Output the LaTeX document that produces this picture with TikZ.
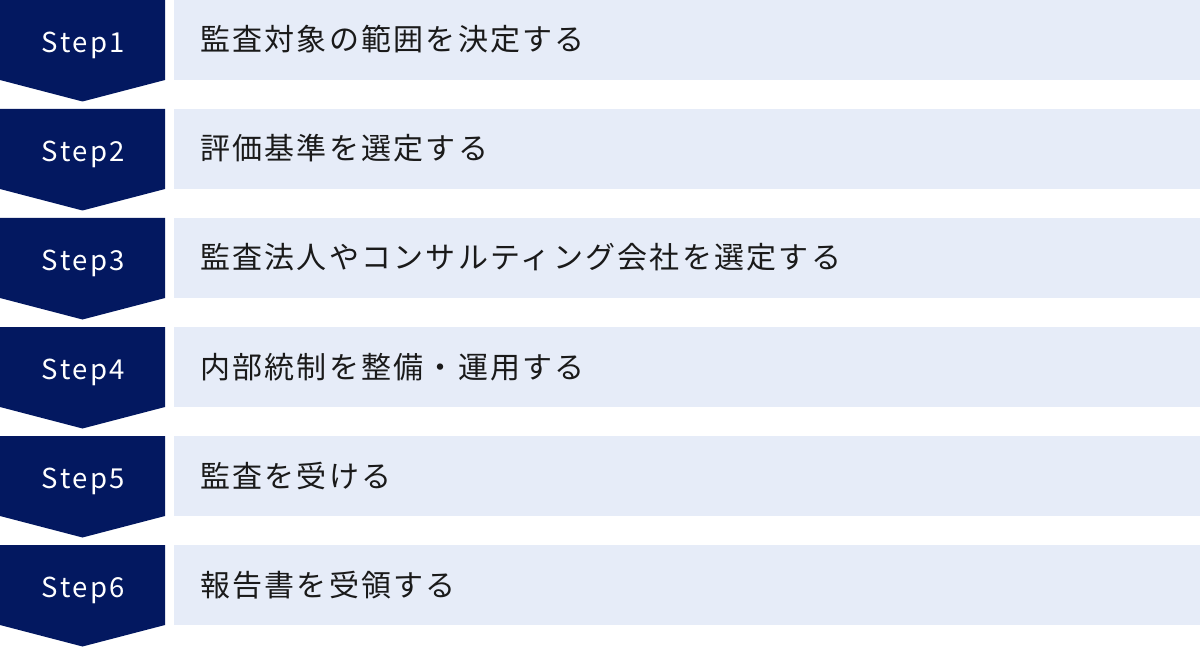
\documentclass[tikz,border=0pt]{standalone}
\usepackage{fontspec}
\setmainfont{Noto Sans CJK JP}
\newfontfamily\jpfont{Noto Sans CJK JP}[LetterSpace=7.5]
\newfontfamily\stepfont{Noto Sans CJK JP}[LetterSpace=9]
\definecolor{navy}{RGB}{3,24,96}
\definecolor{pale}{RGB}{230,236,248}
\definecolor{ink}{RGB}{26,26,26}
\begin{document}
\begin{tikzpicture}[x=1pt,y=-1pt,
  stepshape/.style={fill=navy,draw=none},
  barshape/.style={fill=pale,draw=none},
  steplabel/.style={font=\stepfont\fontsize{27.5}{32}\selectfont,text=white,anchor=base,inner sep=0pt},
  barlabel/.style={font=\jpfont\fontsize{30}{36}\selectfont,text=ink,anchor=base west,inner sep=0pt}]
\useasboundingbox (0,0) rectangle (1200,647);
\foreach \i/\t in {1/監査対象の範囲を決定する,2/評価基準を選定する,3/監査法人やコンサルティング会社を選定する,4/内部統制を整備・運用する,5/監査を受ける,6/報告書を受領する}{
  \pgfmathsetmacro{\top}{109*(\i-1)}
  \fill[stepshape] (0,\top) -- (165,\top) -- (165,\top+80) -- (82.5,\top+101.5) -- (0,\top+80) -- cycle;
  \fill[barshape] (174,\top) rectangle (1200,\top+80);
  \node[steplabel] (s\i) at (83.5,\top+52.5) {Step\i};
  \node[barlabel] (t\i) at (200,\top+51) {\t};
}
\end{tikzpicture}
\end{document}
